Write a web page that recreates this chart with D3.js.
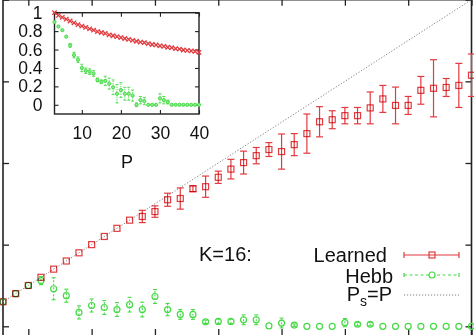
<!DOCTYPE html>
<html>
<head>
<meta charset="utf-8">
<script src="https://cdn.jsdelivr.net/npm/d3@7"></script>
<style>
  html, body { margin: 0; padding: 0; background: #fff; }
  svg { display: block; font-family: "Liberation Sans", Arial, sans-serif; }
</style>
</head>
<body>
<svg id="chart" width="474" height="335"></svg>
<script>
// Number of stored patterns P (main panel, K=16)
const mainP = [6, 8, 10, 12, 14, 16, 18, 20, 22, 24, 26, 28, 30, 32, 34, 36, 38, 40, 42, 44,
               46, 48, 50, 52, 54, 56, 58, 60, 62, 64, 66, 68, 70, 72, 74, 76, 78, 80];
// Stable patterns P_s, learned couplings
const learnedPs = [6, 8, 10, 12, 14, 16, 18, 20, 22, 24, 26, 26.9, 28.1, 31.0, 31.3, 33.7, 34.2, 36.5, 38.5, 40.1,
                   41.8, 43.3, 42.8, 44.5, 47.2, 50.1, 50.6, 51.6, 51.6, 53.5, 55.7, 54.1, 54.1, 57.8, 58.3, 58.5, 59.0, 61.5];
const learnedErr = [0, 0, 0, 0, 0, 0, 0, 0, 0, 0, 0, 1.5, 1.4, 1.6, 2.6, 0.7, 2.6, 1.5, 2.4, 2.8,
                    2.0, 1.7, 4.3, 2.7, 4.8, 3.7, 2.2, 2.0, 2.0, 3.9, 3.3, 4.5, 2.2, 3.4, 7.0, 2.2, 5.4, 5.2];
// Stable patterns P_s, Hebb rule
const hebbPs = [6, 8, 10, 11.2, 9.2, 7.5, 3.4, 5.1, 4.6, 4.1, 5.3, 4.1, 7.3, 4.1, 2.9, 2.9, 1.1, 1.2, 1.2, 1.6,
                1.6, 0.1, 0.8, 0.3, 0, 0, 0, 0.9, 0.5, 0.5, 0, 0, 0, 0, 0, 0, 0, 0];
const hebbErr = [0, 0, 0, 1.0, 2.7, 1.6, 1.6, 1.6, 1.7, 1.7, 1.8, 1.8, 1.7, 1.5, 1.2, 1.2, 0.4, 0.6, 0.6, 1.2,
                 1.2, 0, 1.2, 0.3, 0, 0, 0, 1.0, 0.4, 0.4, 0, 0, 0, 0, 0, 0, 0, 0];
const mainXTicks = [10, 20, 30, 40, 50, 60, 70, 80];
const mainYTicks = [0, 20, 40, 60, 80];

// Inset: fraction P_s/P
const insetP = [3, 4, 5, 6, 7, 8, 9, 10, 11, 12, 13, 14, 15, 16, 17, 18, 19, 20, 21, 22,
                23, 24, 25, 26, 27, 28, 29, 30, 31, 32, 33, 34, 35, 36, 37, 38, 39, 40];
const insetLearned = [1.0, 0.97, 0.95, 0.93, 0.91, 0.89, 0.87, 0.855, 0.84, 0.825, 0.81, 0.795, 0.785, 0.775, 0.76, 0.75, 0.74, 0.73, 0.72, 0.71,
                      0.70, 0.69, 0.68, 0.675, 0.665, 0.655, 0.65, 0.64, 0.635, 0.625, 0.62, 0.61, 0.605, 0.595, 0.59, 0.585, 0.58, 0.57];
const insetHebb = [0.90, 0.85, 0.81, 0.74, 0.645, 0.54, 0.49, 0.40, 0.37, 0.36, 0.34, 0.27, 0.25, 0.26, 0.23, 0.19, 0.12, 0.16, 0.12, 0.12,
                   0.10, 0.0, 0.05, 0.04, 0.0, 0.0, 0.0, 0.07, 0.05, 0.03, 0, 0, 0, 0, 0, 0, 0, 0];
const insetHebbErr = [0, 0, 0, 0, 0.02, 0.03, 0.03, 0.04, 0.03, 0.03, 0.03, 0.02, 0.02, 0.05, 0.06, 0.08, 0.10, 0.08, 0.07, 0.07,
                      0.06, 0.02, 0.04, 0.04, 0, 0, 0, 0.05, 0.04, 0.02, 0, 0, 0, 0, 0, 0, 0, 0];
const insetXTicks = [10, 20, 30, 40];
const insetYTicks = [0, 0.2, 0.4, 0.6, 0.8, 1];

const legendLabels = ["Learned", "Hebb", "P=P"];

const RED = "#e23a3e";
const GREEN = "#45da45";
const GREY = "#808080";
const AXIS = "#222";

const svg = d3.select("#chart");

// ---------- main panel ----------
const x = d3.scaleLinear().domain([6, 80]).range([3, 471.5]);
const y = d3.scaleLinear().domain([0, 80]).range([326.3, -0.3]);
const frame = { left: 3, right: 471.5, top: -0.3, bottom: 336 };

// border
svg.append("rect")
  .attr("x", frame.left).attr("y", frame.top)
  .attr("width", frame.right - frame.left).attr("height", frame.bottom - frame.top)
  .attr("fill", "none").attr("stroke", AXIS).attr("stroke-width", 1.6);

// inward ticks on all four sides
function styleAxis(g) {
  g.select(".domain").remove();
  g.selectAll(".tick line").attr("stroke", AXIS).attr("stroke-width", 1.3);
  g.selectAll(".tick text").remove();
}
svg.append("g").attr("transform", `translate(0,${frame.bottom})`)
  .call(d3.axisBottom(x).tickValues(mainXTicks).tickSize(-7)).call(styleAxis);
svg.append("g").attr("transform", `translate(0,${frame.top})`)
  .call(d3.axisTop(x).tickValues(mainXTicks).tickSize(-6)).call(styleAxis);
svg.append("g").attr("transform", `translate(${frame.left},0)`)
  .call(d3.axisLeft(y).tickValues(mainYTicks).tickSize(-6)).call(styleAxis);
svg.append("g").attr("transform", `translate(${frame.right},0)`)
  .call(d3.axisRight(y).tickValues(mainYTicks).tickSize(-6)).call(styleAxis);

// P_s = P reference line
svg.append("line")
  .attr("x1", x(6)).attr("y1", y(6)).attr("x2", x(80)).attr("y2", y(80))
  .attr("stroke", GREY).attr("stroke-width", 1).attr("stroke-dasharray", "1.2,1.8");

const learned = mainP.map((p, i) => ({ p, v: learnedPs[i], e: learnedErr[i] }));
const hebb = mainP.map((p, i) => ({ p, v: hebbPs[i], e: hebbErr[i] }));

function errorBars(g, data, xs, ys, color, cap, dash, width) {
  const eb = g.selectAll(null).data(data.filter(d => d.e > 0)).join("g")
    .attr("stroke", color).attr("stroke-width", width).attr("fill", "none");
  eb.append("line")
    .attr("x1", d => xs(d.p)).attr("x2", d => xs(d.p))
    .attr("y1", d => ys(d.v - d.e)).attr("y2", d => ys(d.v + d.e))
    .attr("stroke-dasharray", dash);
  eb.append("line")
    .attr("x1", d => xs(d.p) - cap).attr("x2", d => xs(d.p) + cap)
    .attr("y1", d => ys(d.v + d.e)).attr("y2", d => ys(d.v + d.e));
  eb.append("line")
    .attr("x1", d => xs(d.p) - cap).attr("x2", d => xs(d.p) + cap)
    .attr("y1", d => ys(d.v - d.e)).attr("y2", d => ys(d.v - d.e));
}

const gHebb = svg.append("g");
errorBars(gHebb, hebb, x, y, GREEN, 2, "2,1.5", 1.1);
gHebb.selectAll("circle").data(hebb).join("circle")
  .attr("cx", d => x(d.p)).attr("cy", d => y(d.v)).attr("r", 3)
  .attr("fill", "none").attr("stroke", GREEN).attr("stroke-width", 1.2);

const gLearned = svg.append("g");
errorBars(gLearned, learned, x, y, RED, 3.5, null, 1.2);
gLearned.selectAll("rect").data(learned).join("rect")
  .attr("x", d => x(d.p) - 3).attr("y", d => y(d.v) - 3)
  .attr("width", 6).attr("height", 6)
  .attr("fill", "none").attr("stroke", RED).attr("stroke-width", 1.2)
  .style("mix-blend-mode", "multiply");

// ---------- annotation & legend ----------
svg.append("text").attr("x", 199).attr("y", 261)
  .attr("font-size", 20).attr("fill", "#111").text("K=16:");

const legY = [255, 275, 295];
const legTextY = [262, 283, 301];
const legTextX = [387, 393, 392];
const sx1 = 404, sx2 = 459, sxm = 432;

svg.append("text").attr("x", legTextX[0]).attr("y", legTextY[0]).attr("text-anchor", "end")
  .attr("font-size", 20).attr("fill", "#111").text(legendLabels[0]);
svg.append("text").attr("x", legTextX[1]).attr("y", legTextY[1]).attr("text-anchor", "end")
  .attr("font-size", 20).attr("fill", "#111").text(legendLabels[1]);
const ps = svg.append("text").attr("x", legTextX[2]).attr("y", legTextY[2]).attr("text-anchor", "end")
  .attr("font-size", 20).attr("fill", "#111");
ps.append("tspan").text("P");
ps.append("tspan").attr("font-size", 14).attr("dy", 5).text("s");
ps.append("tspan").attr("dy", -5).text("=P");

// Learned sample
const l0 = svg.append("g").attr("stroke", RED).attr("stroke-width", 1.2).attr("fill", "none");
l0.append("line").attr("x1", sx1).attr("x2", sx2).attr("y1", legY[0]).attr("y2", legY[0]);
l0.append("line").attr("x1", sx1).attr("x2", sx1).attr("y1", legY[0] - 3).attr("y2", legY[0] + 3);
l0.append("line").attr("x1", sx2).attr("x2", sx2).attr("y1", legY[0] - 3).attr("y2", legY[0] + 3);
l0.append("rect").attr("x", sxm - 3).attr("y", legY[0] - 3).attr("width", 6).attr("height", 6);
// Hebb sample
const l1 = svg.append("g").attr("stroke", GREEN).attr("stroke-width", 1.2).attr("fill", "none");
l1.append("line").attr("x1", sx1).attr("x2", sx2).attr("y1", legY[1]).attr("y2", legY[1])
  .attr("stroke-dasharray", "3,2.5");
l1.append("line").attr("x1", sx1).attr("x2", sx1).attr("y1", legY[1] - 2).attr("y2", legY[1] + 2);
l1.append("line").attr("x1", sx2).attr("x2", sx2).attr("y1", legY[1] - 2).attr("y2", legY[1] + 2);
l1.append("circle").attr("cx", sxm).attr("cy", legY[1]).attr("r", 3).attr("fill", "#fff");
// P_s = P sample
svg.append("line").attr("x1", sx1).attr("x2", sx2).attr("y1", legY[2]).attr("y2", legY[2])
  .attr("stroke", GREY).attr("stroke-width", 1).attr("stroke-dasharray", "1.2,1.8");

// ---------- inset ----------
const xi = d3.scaleLinear().domain([3, 40]).range([54.5, 199]);
const yi = d3.scaleLinear().domain([-0.1, 1]).range([114, 12.7]);

svg.append("rect").attr("x", 54.5).attr("y", 12.7).attr("width", 199 - 54.5).attr("height", 114 - 12.7)
  .attr("fill", "#fff").attr("stroke", AXIS).attr("stroke-width", 1.4);

function styleInset(g, keepText) {
  g.select(".domain").remove();
  g.selectAll(".tick line").attr("stroke", AXIS).attr("stroke-width", 1.1);
  if (!keepText) g.selectAll(".tick text").remove();
  else g.selectAll(".tick text").attr("fill", "#111").attr("font-size", 17.5)
        .attr("font-family", "Liberation Sans, Arial, sans-serif");
}
const fmtY = d => (d === 0 || d === 1) ? String(d) : d.toFixed(1);
svg.append("g").attr("transform", "translate(0,114)")
  .call(d3.axisBottom(xi).tickValues(insetXTicks).tickSize(-4).tickPadding(13)).call(g => styleInset(g, true));
svg.append("g").attr("transform", "translate(0,12.7)")
  .call(d3.axisTop(xi).tickValues(insetXTicks).tickSize(-4)).call(g => styleInset(g, false));
svg.append("g").attr("transform", "translate(54.5,0)")
  .call(d3.axisLeft(yi).tickValues(insetYTicks).tickFormat(fmtY).tickSize(-4).tickPadding(12))
  .call(g => styleInset(g, true));
svg.append("g").attr("transform", "translate(199,0)")
  .call(d3.axisRight(yi).tickValues(insetYTicks).tickSize(-4)).call(g => styleInset(g, false));

svg.append("text").attr("x", 127).attr("y", 168).attr("text-anchor", "middle")
  .attr("font-size", 18).attr("fill", "#111").text("P");

const iHebb = insetP.map((p, i) => ({ p, v: insetHebb[i], e: insetHebbErr[i] }));
const iLearned = insetP.map((p, i) => ({ p, v: insetLearned[i] }));

const giH = svg.append("g");
errorBars(giH, iHebb, xi, yi, GREEN, 1.5, "1.5,1", 0.9);
giH.selectAll("circle").data(iHebb).join("circle")
  .attr("cx", d => xi(d.p)).attr("cy", d => yi(d.v)).attr("r", 1.6)
  .attr("fill", "#8e8").attr("stroke", GREEN).attr("stroke-width", 1);

const giL = svg.append("g").attr("stroke", RED).attr("stroke-width", 1.3);
giL.selectAll("g").data(iLearned).join("g")
  .attr("transform", d => `translate(${xi(d.p)},${yi(d.v)})`)
  .call(g => {
    g.append("line").attr("x1", -2.2).attr("x2", 2.2).attr("y1", -2.2).attr("y2", 2.2);
    g.append("line").attr("x1", -2.2).attr("x2", 2.2).attr("y1", 2.2).attr("y2", -2.2);
  });
</script>
</body>
</html>
